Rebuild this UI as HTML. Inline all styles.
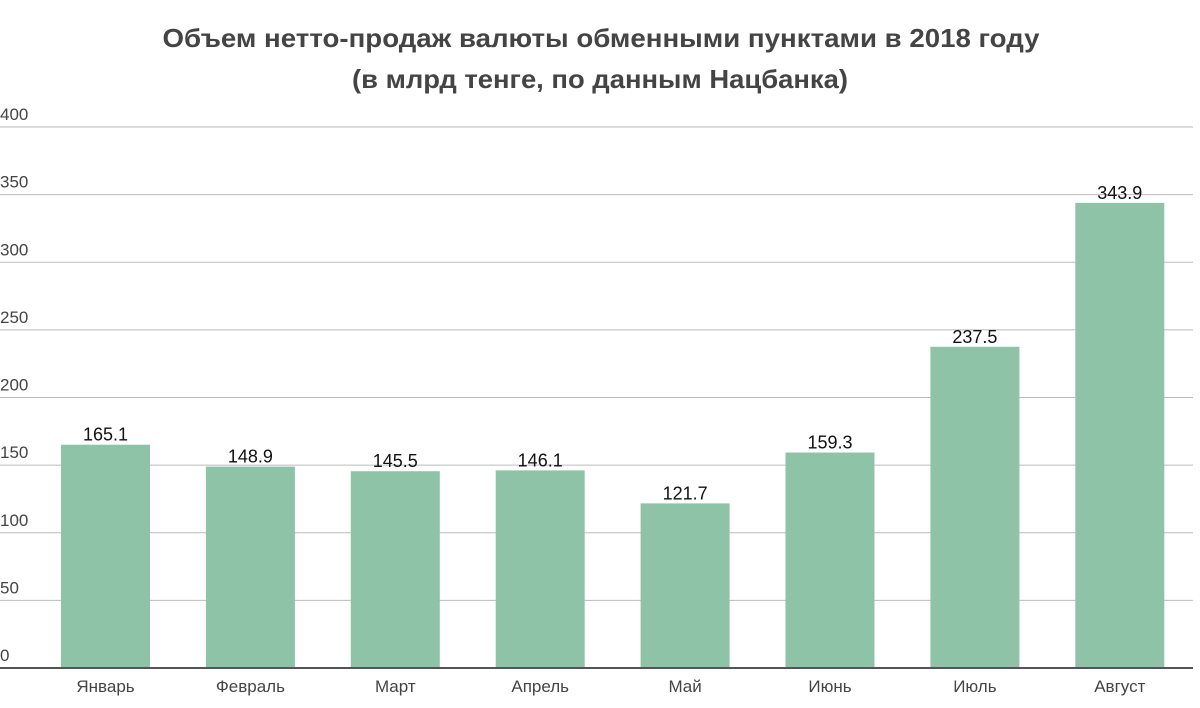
<!DOCTYPE html>
<html><head><meta charset="utf-8"><style>
body{margin:0;background:#fff;}
svg{display:block;font-family:"Liberation Sans",sans-serif;}
</style></head><body>
<svg id="chart" width="1200" height="708" viewBox="0 0 1200 708">
<text x="601" y="47" text-anchor="middle" font-size="26" font-weight="bold" fill="#444" textLength="877" lengthAdjust="spacingAndGlyphs">Объем нетто-продаж валюты обменными пунктами в 2018 году</text>
<text x="600" y="88" text-anchor="middle" font-size="26" font-weight="bold" fill="#444" textLength="496" lengthAdjust="spacingAndGlyphs">(в млрд тенге, по данным Нацбанка)</text>
<g id="grid"></g><g id="bars"></g>
</svg>
<script>
const categories=["Январь","Февраль","Март","Апрель","Май","Июнь","Июль","Август"];
const values=[165.1,148.9,145.5,146.1,121.7,159.3,237.5,343.9];
const valueLabels=["165.1","148.9","145.5","146.1","121.7","159.3","237.5","343.9"];
const yTicks=[0,50,100,150,200,250,300,350,400];
const NS="http://www.w3.org/2000/svg";
const y0=668,yTop=127,yMax=400;
const y=v=>y0-(v/yMax)*(y0-yTop);
const x=i=>61+i*144.9;
const bw=89;
function mk(t,a,p){const e=document.createElementNS(NS,t);for(const k in a)e.setAttribute(k,a[k]);p.appendChild(e);return e;}
const grid=document.getElementById('grid'),bars=document.getElementById('bars');
yTicks.forEach(t=>{
 const l=mk('line',{x1:0,x2:1193,y1:y(t),y2:y(t),stroke:t===0?'#555':'#bbb','stroke-width':t===0?2:1},grid);
 
 
 const tx=mk('text',{x:0,y:y(t)-7,'font-size':17,fill:'#444'},grid);
 tx.textContent=t;
 
 
});
categories.forEach((c,i)=>{
 const r=mk('rect',{x:x(i),y:y(values[i]),width:bw,height:y0-y(values[i]),fill:'#8ec3a7'},bars);
 
 
 const v=mk('text',{x:x(i)+bw/2,y:y(values[i])-4,'text-anchor':'middle','font-size':18,fill:'#111'},bars);
 v.textContent=valueLabels[i];
 
 
 const xl=mk('text',{x:x(i)+bw/2,y:692,'text-anchor':'middle','font-size':17,fill:'#444'},bars);
 xl.textContent=c;
 
 
});
mk('line',{x1:0,x2:1193,y1:y0,y2:y0,stroke:'#555','stroke-width':2},bars);
</script>
</body></html>
